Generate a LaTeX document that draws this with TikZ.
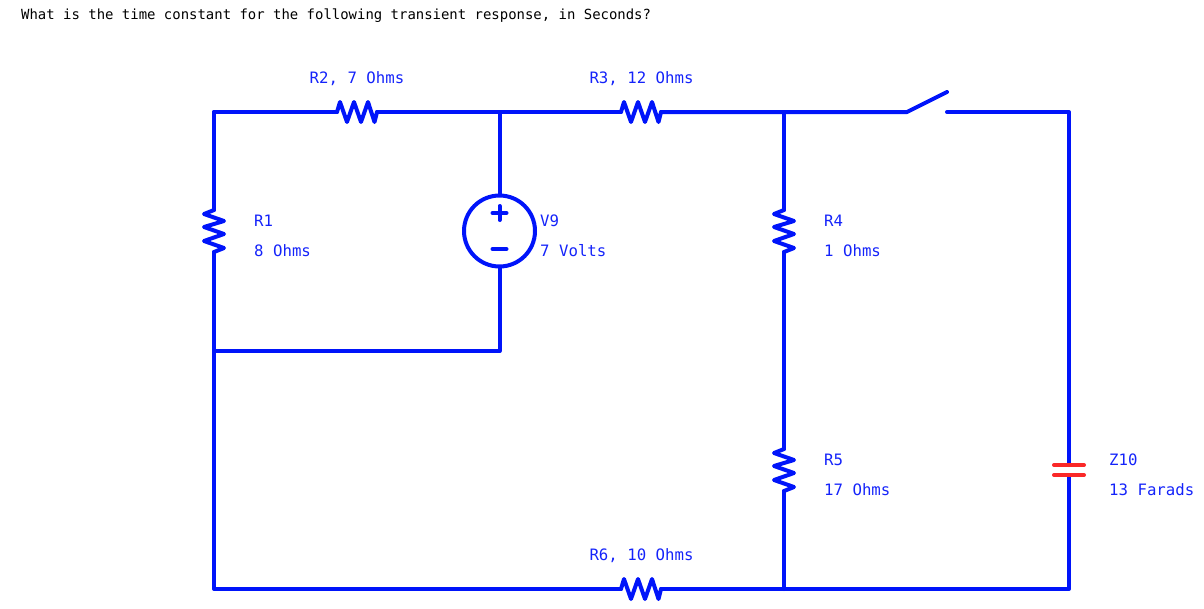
\documentclass[tikz,border=0pt]{standalone}
\usepackage{fontspec}
\setmonofont{DejaVu Sans Mono}
\usetikzlibrary{positioning}
\definecolor{wireblue}{RGB}{0,20,250}
\definecolor{textblue}{RGB}{20,35,250}
\definecolor{capred}{RGB}{250,40,40}
\tikzset{%
  wire/.style={draw=wireblue, line width=4pt, line cap=round, line join=round},
  plate/.style={draw=capred, line width=4pt, line cap=round},
  val/.style={text=textblue, inner sep=0pt, font=\ttfamily\fontsize{15.7}{18}\selectfont},
  resH/.pic={
    \coordinate (-a) at (-20,0);
    \coordinate (-b) at (20,0);
    \draw[wire] (-a) -- (-17,-10) -- (-10,10) -- (-3,-10) -- (4,10) -- (11,-10) -- (17.5,10) -- (-b);
  },
  resV/.pic={
    \coordinate (-a) at (0,-21);
    \coordinate (-b) at (0,21);
    \draw[wire] (-a) -- (-10,-17) -- (10,-10) -- (-10,-4) -- (10,3) -- (-10,10) -- (10,17) -- (-b);
  },
}

\begin{document}
\begin{tikzpicture}[x=1pt,y=-1pt]
    \useasboundingbox (0,0) rectangle (1204,608);
    \node[anchor=west, inner sep=0pt, font=\ttfamily\fontsize{13.95}{16}\selectfont] (question) at (21,16)
      {What is the time constant for the following transient response, in Seconds?};
    % corners and junctions
    \coordinate (tl) at (214,112);
    \coordinate (tm) at (499.5,112);
    \coordinate (tr) at (784,112);
    \coordinate (te) at (1069,112);
    \coordinate (ml) at (214,351);
    \coordinate (mm) at (499.5,351);
    \coordinate (mr) at (784,351);
    \coordinate (bl) at (214,589);
    \coordinate (br) at (784,589);
    \coordinate (be) at (1069,589);
    \coordinate (swa) at (907,112);
    \coordinate (swb) at (947,92);
    \coordinate (swc) at (947,112);
    % parts
    \pic (rtwo) at (357,112) {resH};
    \pic (rthree) at (641,112) {resH};
    \pic (rsix) at (641,589) {resH};
    \pic (rone) at (214,231) {resV};
    \pic (rfour) at (784,231) {resV};
    \pic (rfive) at (784,470) {resV};
    \node[circle, wire, minimum size=71pt, inner sep=0pt] (vnine) at (499.5,231) {};
    \draw[wire] (492.5,213) -- (506.5,213);
    \draw[wire] (499.5,206) -- (499.5,220);
    \draw[wire] (492.5,249) -- (506.5,249);
    \coordinate (zup) at (1069,465);
    \coordinate (zdn) at (1069,475);
    \draw[wire] (tl) -- (rtwo-a);
    \draw[wire] (rtwo-b) -- (tm) -- (rthree-a);
    \draw[wire] (rthree-b) -- (tr) -- (swa) -- (swb);
    \draw[wire] (swc) -- (te) -- (zup);
    \draw[wire] (zdn) -- (be) -- (br) -- (rsix-b);
    \draw[wire] (rsix-a) -- (bl) -- (ml);
    \draw[wire] (ml) -- (rone-b);
    \draw[wire] (rone-a) -- (tl);
    \draw[wire] (tm) -- (vnine);
    \draw[wire] (vnine) -- (mm) -- (ml);
    \draw[wire] (tr) -- (rfour-a);
    \draw[wire] (rfour-b) -- (mr) -- (rfive-a);
    \draw[wire] (rfive-b) -- (br);
    \draw[plate] (1054,465) -- (1084,465);
    \draw[plate] (1054,475) -- (1084,475);
    % labels
    \node[val] (ltwo) at (357,79) {R2, 7 Ohms};
    \node[val] (lthree) at (641.5,79) {R3, 12 Ohms};
    \node[val] (lsix) at (641.5,556) {R6, 10 Ohms};
    \node[val, anchor=west] (lone) at (254,221) {R1};
    \node[val, anchor=west] (vone) at (254,251) {8 Ohms};
    \node[val, anchor=west] (lnine) at (540,221) {V9};
    \node[val, anchor=west] (vnineval) at (540,251) {7 Volts};
    \node[val, anchor=west] (lfour) at (824,221) {R4};
    \node[val, anchor=west] (vfour) at (824,251) {1 Ohms};
    \node[val, anchor=west] (lfive) at (824,459.5) {R5};
    \node[val, anchor=west] (vfive) at (824,489.5) {17 Ohms};
    \node[val, anchor=west] (lten) at (1109,459.5) {Z10};
    \node[val, anchor=west] (vten) at (1109,489.5) {13 Farads};
\end{tikzpicture}
\end{document}
